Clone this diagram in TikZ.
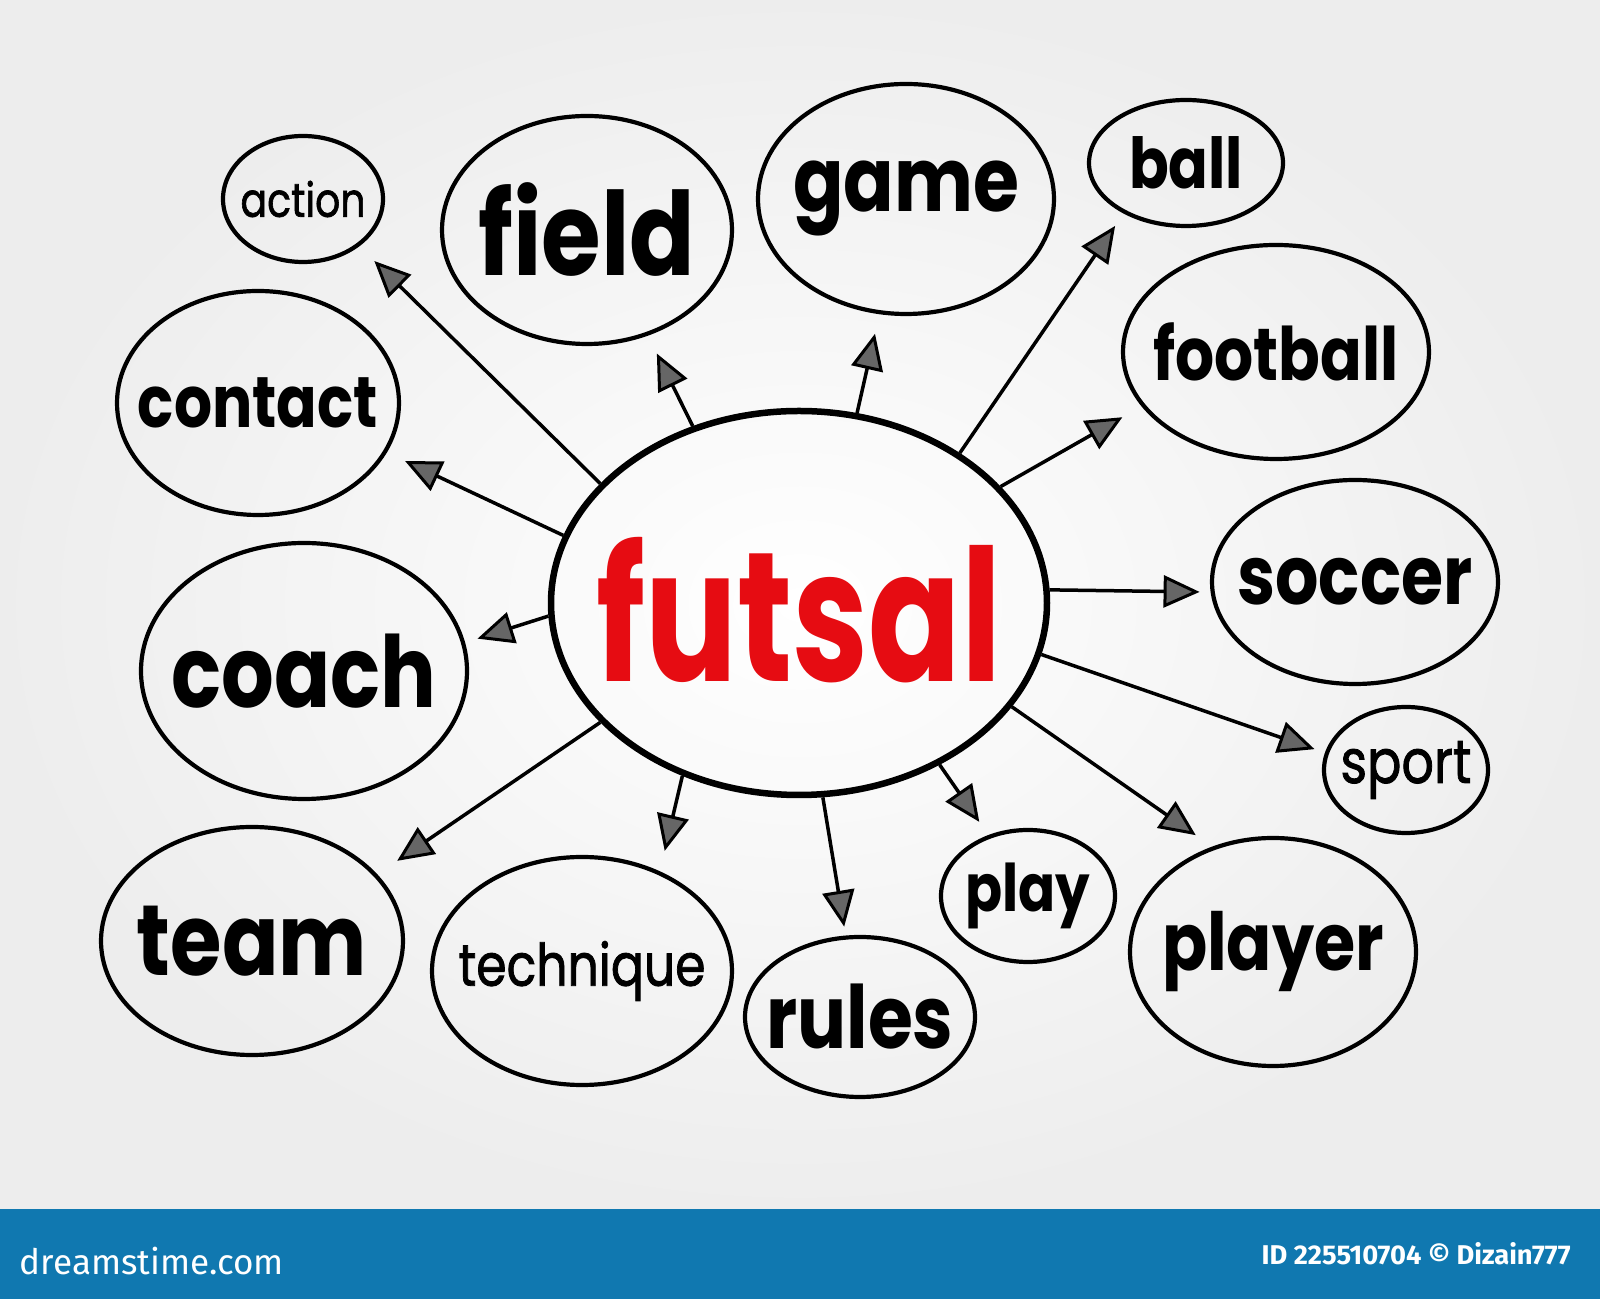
\documentclass[tikz,border=0pt]{standalone}
\usepackage{fontspec}
\setmainfont{Poppins}
\newfontfamily\barfont{Fira Sans}
\usetikzlibrary{shapes.geometric,arrows.meta}
\definecolor{futsalred}{RGB}{230,12,18}
\definecolor{barblue}{RGB}{16,120,176}
% word squeezed to a given width (mm), a bit taller like handwriting,
% boxed to zero size so the bubble keeps its own size
\newcommand{\hw}[3][1.2]{\smash{\makebox[0pt]{\raisebox{\dimexpr(\depth-\height)/2\relax}{%
  \scalebox{1}[#1]{\resizebox{#2mm}{!}{#3}}}}}}
\newcommand{\thinpen}{\addfontfeature{FakeBold=1.5}}

\begin{document}
\begin{tikzpicture}[x=0.1mm,y=-0.1mm,
    bubble/.style={ellipse, draw, line width=0.42mm, inner sep=0pt},
    spoke/.style={line width=0.35mm,
      -{Triangle[length=3.6mm, width=3.2mm, fill=black!60, line width=0.3mm]}}]

    \useasboundingbox (0,0) rectangle (1600,1299);

    % background and bottom bar
    \shade[inner color=white, outer color=black!7] (0,0) rectangle (1600,1209);
    \fill[barblue] (0,1209) rectangle (1600,1299);

    % centre
    \node[bubble, line width=0.65mm, minimum width=49.6mm, minimum height=38.4mm,
      text=futsalred, font=\bfseries] (futsal) at (799,603)
      {\raisebox{-1.5mm}{\hw[1.35]{40.5}{futsal}}};

    % words round it
    \node[bubble, minimum width=16mm, minimum height=12.6mm, font=\thinpen] (action) at (303,199) {\hw{12.5}{action}};
    \node[bubble, minimum width=29mm, minimum height=22.8mm, font=\bfseries] (field) at (587,230) {\hw{21.7}{field}};
    \node[bubble, minimum width=29.6mm, minimum height=23mm, font=\bfseries] (game) at (906,199) {\hw{22.6}{game}};
    \node[bubble, minimum width=19.4mm, minimum height=12.6mm, font=\bfseries] (ball) at (1186,163) {\hw{11.4}{ball}};
    \node[bubble, minimum width=30.6mm, minimum height=21.4mm, font=\bfseries] (football) at (1276,352) {\hw{24.5}{football}};
    \node[bubble, minimum width=28.6mm, minimum height=20.4mm, font=\bfseries] (soccer) at (1355,582) {\hw{23.5}{soccer}};
    \node[bubble, minimum width=16.4mm, minimum height=12.6mm, font=\thinpen] (sport) at (1406,770) {\hw{13.1}{sport}};
    \node[bubble, minimum width=28.6mm, minimum height=22.8mm, font=\bfseries] (player) at (1273,952) {\hw{22.2}{player}};
    \node[bubble, minimum width=17.4mm, minimum height=13.2mm, font=\bfseries] (play) at (1028,896) {\hw{12.5}{play}};
    \node[bubble, minimum width=23mm, minimum height=16mm, font=\bfseries] (rules) at (860,1017) {\hw{18.7}{rules}};
    \node[bubble, minimum width=30mm, minimum height=22.8mm, font=\thinpen] (technique) at (582,971) {\hw{24.7}{technique}};
    \node[bubble, minimum width=30.2mm, minimum height=22.8mm, font=\bfseries] (team) at (252,941) {\hw{23}{team}};
    \node[bubble, minimum width=32.6mm, minimum height=25.6mm, font=\bfseries] (coach) at (304,671) {\hw{26.5}{coach}};
    \node[bubble, minimum width=28.2mm, minimum height=22.4mm, font=\bfseries] (contact) at (258,403) {\hw{24}{contact}};

    % arrows out of the centre
    \foreach \a/\n/\b/\s in {149/action/-40/2.1, 121/field/-60/2, 73/game/-103/2,
        43/ball/219/1.5, 30/football/202/2.2, 3/soccer/184/1.1, -12/sport/168/1.1,
        -26/player/120/2, -49/play/123/1.6, -83/rules/100/0.9, -124/technique/52/2.1,
        211/team/28/2.4, 183/coach/10/1.3, 164/contact/-21/2}
      \draw[spoke, shorten >=\s mm] (futsal.\a) -- (\n.\b);

    % bar texts
    \node[text=white, font=\barfont] (site) at (152,1261) {\resizebox{26.4mm}{!}{dreamstime.com}};
    \node[text=white, font=\barfont\bfseries] (imgid) at (1416,1254)
      {\resizebox{30.9mm}{2.2mm}{ID 225510704 © Dizain777}};
\end{tikzpicture}
\end{document}
